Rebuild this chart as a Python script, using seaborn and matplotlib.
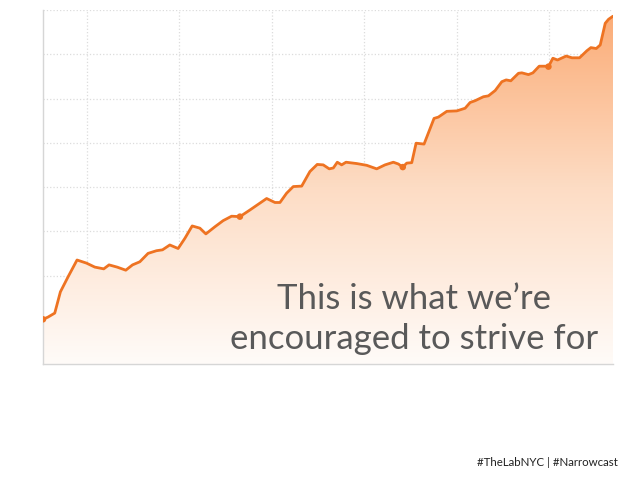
import numpy as np
import pandas as pd
import seaborn as sns
from matplotlib import pyplot as plt
from matplotlib.colors import LinearSegmentedColormap

# traced series (x in grid units, y in grid units)
x_vals = [5.27, 5.81, 6.54, 7.15, 7.98, 8.95, 9.97, 10.87, 11.84, 12.41,
          13.28, 14.22, 14.95, 15.74, 16.63, 17.54, 18.19, 18.98, 19.88, 20.61,
          21.40, 22.23, 22.88, 23.85, 24.75, 25.66, 26.56, 27.64, 29.45, 30.35,
          30.89, 31.61, 32.33, 33.24, 34.13, 34.92, 35.57, 36.22, 36.66, 37.09,
          37.56, 38.03, 39.19, 40.27, 41.35, 42.25, 43.15, 43.69, 44.17, 44.60,
          45.14, 45.61, 46.47, 47.55, 48.02, 48.93, 50.01, 50.91, 51.45, 51.99,
          52.89, 53.43, 54.16, 54.88, 55.35, 55.85, 56.68, 57.04, 57.76, 58.24,
          58.92, 59.57, 59.92, 60.40, 60.90, 61.84, 62.46, 63.28, 64.08, 64.51,
          65.09, 65.52, 66.06, 66.42, 66.90]
y_vals = [1.01, 1.06, 1.15, 1.63, 1.97, 2.35, 2.28, 2.19, 2.15, 2.24,
          2.19, 2.12, 2.24, 2.31, 2.50, 2.56, 2.58, 2.69, 2.61, 2.84,
          3.12, 3.07, 2.94, 3.10, 3.24, 3.34, 3.33, 3.48, 3.74, 3.65,
          3.65, 3.86, 4.01, 4.02, 4.35, 4.51, 4.50, 4.41, 4.43, 4.56,
          4.50, 4.56, 4.53, 4.49, 4.41, 4.50, 4.56, 4.52, 4.45, 4.54,
          4.55, 4.99, 4.97, 5.55, 5.58, 5.71, 5.72, 5.78, 5.91, 5.95,
          6.04, 6.06, 6.18, 6.38, 6.42, 6.40, 6.57, 6.58, 6.54, 6.58,
          6.73, 6.73, 6.72, 6.91, 6.87, 6.96, 6.92, 6.92, 7.08, 7.15,
          7.13, 7.21, 7.70, 7.79, 7.86]
marker_idx = [0, 26, 48, 72]

caption = "This is what we\u2019re\nencouraged to strive for"
footer = "#TheLabNYC | #Narrowcast"

df = pd.DataFrame({'x': x_vals, 'y': y_vals})

sns.set_style('white')
plt.rcParams['font.family'] = ['Lato', 'DejaVu Sans']

fig = plt.figure(figsize=(6.38, 4.78), dpi=100)
ax = fig.add_axes([43 / 638, 114 / 478, 570 / 638, 354 / 478])

xmin, xmax = 5.27, 66.9
ax.set_xlim(xmin, xmax)
ax.set_ylim(0, 8)

# gradient fill under the line
cmap = LinearSegmentedColormap.from_list('peach', ['#fffbf8', '#fddcc4', '#fbab75'])
grad = np.linspace(0, 1, 256).reshape(-1, 1)
img = ax.imshow(grad, extent=[xmin, xmax, 0, 8], origin='lower', aspect='auto',
                cmap=cmap, zorder=1)
poly = ax.fill_between(df['x'], df['y'], 0, color='none', lw=0)
clip = poly.get_paths()[0]
img.set_clip_path(clip, transform=ax.transData)

sns.lineplot(data=df, x='x', y='y', ax=ax, color='#ee7322', linewidth=2, zorder=3)
mk = df.iloc[marker_idx]
sns.scatterplot(data=mk, x='x', y='y', ax=ax, color='#ee7322', s=22,
                edgecolor='none', zorder=4)

ax.set_xticks(range(10, 61, 10))
ax.set_yticks(range(1, 9))
ax.grid(True, color='#dcdcdc', linestyle=':', linewidth=0.9)
ax.set_axisbelow(True)
ax.tick_params(length=0, labelbottom=False, labelleft=False)
ax.set_xlabel('')
ax.set_ylabel('')
for side in ['top', 'right']:
    ax.spines[side].set_visible(False)
for side in ['left', 'bottom']:
    ax.spines[side].set_color('#d6d6d6')
    ax.spines[side].set_linewidth(1)

fig.text(414 / 638, 1 - 319 / 478, caption, ha='center', va='center',
         fontsize=25, color='#595959', linespacing=1.3)
fig.text(618 / 638, 1 - 462 / 478, footer, ha='right', va='center',
         fontsize=8.3, color='#222222')

fig.savefig('out.png', dpi=100)
